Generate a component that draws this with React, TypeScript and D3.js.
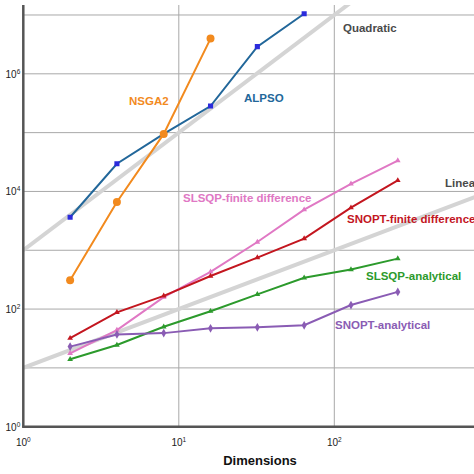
import React from 'react';
import * as d3 from 'd3';

// problem sizes shared by every optimizer run
const dims = [2, 4, 8, 16, 32, 64, 128, 256];

// function evaluations per optimizer
const alpso = [3640, 29600, 95000, 283000, 2900000, 10500000];
const nsga2 = [309, 6600, 95000, 3970000];
const slsqpFd = [17.7, 44, 160, 430, 1380, 4900, 13500, 33500];
const snoptFd = [32, 88, 168, 365, 750, 1580, 5300, 15400];
const slsqpAn = [14, 24.5, 50, 92, 178, 340, 470, 720];
const snoptAn = [23, 37, 39, 47, 49, 53, 117, 196];

const xTicks = [1, 10, 100];
const xTickExp = ['0', '1', '2'];
const yTicks = [1, 100, 1e4, 1e6];
const yTickExp = ['0', '2', '4', '6'];
const xGrid = [10, 100, 1000];
const yGrid = [10, 100, 1e3, 1e4, 1e5, 1e6, 1e7];

const W = 474;
const H = 474;
const left = 23.3;
const bottom = 426.7;
const top = 5;
const right = 489.8;

const FONT = '"Liberation Sans", Arial, Helvetica, sans-serif';

export default function App() {
  const x = d3.scaleLog().domain([1, 1000]).range([left, right]);
  const y = d3.scaleLog().domain([1, Math.pow(10, 7.17)]).range([bottom, top]);

  const line = d3.line<[number, number]>()
    .x(d => x(d[0]))
    .y(d => y(d[1]));

  const pts = (vals: number[]) => vals.map((v, i) => [dims[i], v] as [number, number]);

  const series = [
    { name: 'ALPSO', vals: alpso, color: '#22679a', marker: '#2b2bdc', sym: d3.symbolSquare, size: 26 },
    { name: 'NSGA2', vals: nsga2, color: '#f28a1e', marker: '#f28a1e', sym: d3.symbolCircle, size: 50 },
    { name: 'SLSQP-fd', vals: slsqpFd, color: '#e078c4', marker: '#e078c4', sym: d3.symbolTriangle, size: 14 },
    { name: 'SNOPT-fd', vals: snoptFd, color: '#c3161f', marker: '#c3161f', sym: d3.symbolTriangle, size: 14 },
    { name: 'SLSQP-an', vals: slsqpAn, color: '#2c9a2c', marker: '#2c9a2c', sym: d3.symbolTriangle, size: 14 },
    { name: 'SNOPT-an', vals: snoptAn, color: '#8a5cb4', marker: '#8a5cb4', sym: d3.symbolDiamond, size: 22 },
  ];

  // reference slopes: linear 10*n, quadratic 1000*n^2
  const linear: [number, number][] = [[1, 10], [1000, 10000]];
  const quadratic: [number, number][] = [[1, 1000], [160, 1000 * 160 * 160]];

  const labels = [
    { text: 'Quadratic', x: 343, y: 32, color: '#4a4a4a' },
    { text: 'Linear', x: 445, y: 187, color: '#4a4a4a' },
    { text: 'NSGA2', x: 129, y: 105, color: '#f28a1e' },
    { text: 'ALPSO', x: 244, y: 102, color: '#22679a' },
    { text: 'SLSQP-finite difference', x: 183, y: 202, color: '#e078c4' },
    { text: 'SNOPT-finite difference', x: 347, y: 223, color: '#c3161f' },
    { text: 'SLSQP-analytical', x: 366, y: 280, color: '#2c9a2c' },
    { text: 'SNOPT-analytical', x: 335, y: 329, color: '#8a5cb4' },
  ];

  return (
    <svg width={W} height={H} style={{ position: 'absolute', left: 0, top: 0, background: '#fff' }}>
      <defs>
        <clipPath id="plot">
          <rect x={left} y={top} width={right - left} height={bottom - top} />
        </clipPath>
      </defs>

      {/* grid */}
      <g stroke="#a8a8a8" strokeWidth={1}>
        {xGrid.map(v => (
          <line key={v} x1={x(v)} x2={x(v)} y1={top} y2={bottom} />
        ))}
        {yGrid.map(v => (
          <line key={v} x1={left} x2={right} y1={y(v)} y2={y(v)} />
        ))}
      </g>

      <g clipPath="url(#plot)" fill="none">
        <path d={line(quadratic) || ''} stroke="#d4d4d4" strokeWidth={4} />
        <path d={line(linear) || ''} stroke="#d4d4d4" strokeWidth={4} />
        {series.map(s => (
          <path key={s.name} d={line(pts(s.vals)) || ''} stroke={s.color} strokeWidth={2} />
        ))}
        {series.map(s => pts(s.vals).map((p, i) => (
          <path
            key={s.name + i}
            d={d3.symbol().type(s.sym).size(s.size)() || ''}
            transform={`translate(${x(p[0])},${y(p[1])})`}
            fill={s.marker}
            stroke="none"
          />
        )))}
      </g>

      {/* axes */}
      <g stroke="#555" strokeWidth={2.5}>
        <line x1={left} x2={left} y1={top} y2={bottom + 1} />
        <line x1={left - 1} x2={right} y1={bottom} y2={bottom} />
      </g>

      <g fontFamily={FONT} fontSize={10} fill="#222">
        {xTicks.map((v, i) => (
          <text key={v} x={x(v)} y={bottom + 19} textAnchor="middle">
            10<tspan fontSize={6.5} dy={-4}>{xTickExp[i]}</tspan>
          </text>
        ))}
        {yTicks.map((v, i) => (
          <text key={v} x={left - 3} y={y(v) + 4} textAnchor="end">
            10<tspan fontSize={6.5} dy={-4}>{yTickExp[i]}</tspan>
          </text>
        ))}
      </g>

      <text x={260} y={465} textAnchor="middle" fontFamily={FONT} fontSize={13} fontWeight="bold" fill="#111">
        Dimensions
      </text>

      <g fontFamily={FONT} fontSize={11.5} fontWeight="bold">
        {labels.map(l => (
          <text key={l.text} x={l.x} y={l.y} fill={l.color}>{l.text}</text>
        ))}
      </g>
    </svg>
  );
}
